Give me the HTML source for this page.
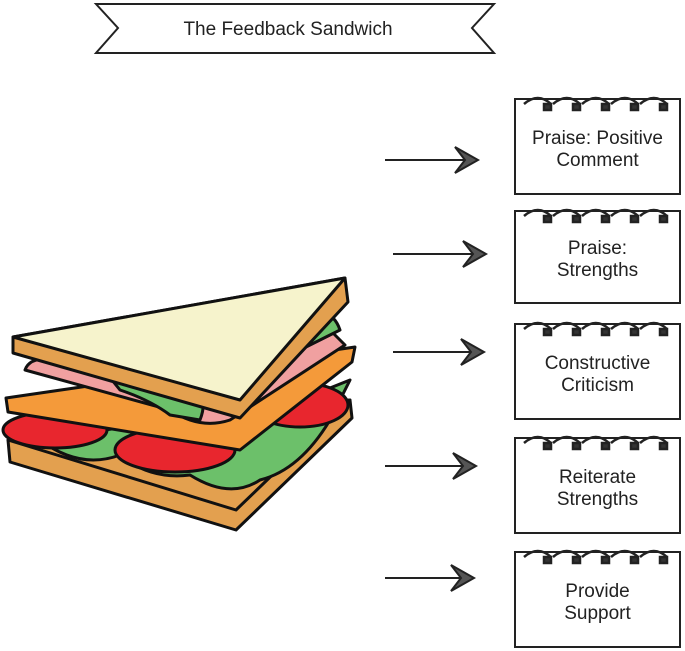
<!DOCTYPE html>
<html><head><style>
body{margin:0;width:685px;height:651px;background:#fff;overflow:hidden;position:relative;font-family:"Liberation Sans",sans-serif}
.card{position:absolute;left:514px;width:167px;border:2px solid #222;background:#fff;box-sizing:border-box;display:flex;align-items:center;justify-content:center;text-align:center;font-size:19px;line-height:22px;color:#222;padding-top:6px}
</style></head><body>
<svg width="685" height="651" style="position:absolute;left:0;top:0">
<polygon points="96,4 494,4 472,28 494,53 96,53 118,28" fill="#fff" stroke="#222" stroke-width="2"/>
<text x="288" y="35" text-anchor="middle" font-size="19" fill="#222" font-family="Liberation Sans, sans-serif">The Feedback Sandwich</text>
<g stroke="#222" stroke-width="2" fill="#555">
<line x1="385" y1="160" x2="470" y2="160"/><polygon points="455,147 478,160 455,173 465,160"/>
<line x1="393" y1="254" x2="478" y2="254"/><polygon points="463,241 486,254 463,267 473,254"/>
<line x1="393" y1="352" x2="476" y2="352"/><polygon points="461,339 484,352 461,365 471,352"/>
<line x1="385" y1="466" x2="468" y2="466"/><polygon points="453,453 476,466 453,479 463,466"/>
<line x1="385" y1="578" x2="466" y2="578"/><polygon points="451,565 474,578 451,591 461,578"/>
</g>
<g stroke="#111" stroke-width="3" stroke-linejoin="round">
<polygon points="8,440 350,400 352,418 236,530 10,462" fill="#e3a04f"/>
<polygon points="8,440 350,400 236,510" fill="#e3a04f"/>
<path d="M40,440 Q80,470 120,455 Q150,480 190,475 Q230,500 260,480 Q300,470 330,420 L350,380 L300,400 Z" fill="#6cc06a"/>
<ellipse cx="55" cy="430" rx="52" ry="18" fill="#e8262e"/>
<ellipse cx="175" cy="450" rx="60" ry="22" fill="#e8262e"/>
<ellipse cx="300" cy="405" rx="48" ry="22" fill="#e8262e"/>
<polygon points="6,398 355,347 352,362 240,450 8,412" fill="#f49a3a"/>
<path d="M25,370 Q30,355 60,360 L330,330 L345,345 L230,420 Q200,430 170,410 Z" fill="#f0a0a0"/>
<path d="M100,365 Q140,350 190,370 Q210,395 200,420 L170,415 Q150,400 120,390 Z" fill="#6cc06a"/>
<path d="M290,320 Q330,300 340,330 L300,350 Z" fill="#6cc06a"/>
<polygon points="13,337 345,278 348,302 240,418 13,353" fill="#e3a04f"/>
<polygon points="13,337 345,278 240,400" fill="#f6f3cc"/>
</g>
</svg>
<div class="card" style="top:98px;height:97px">Praise: Positive<br>Comment</div>
<div class="card" style="top:210px;height:94px">Praise:<br>Strengths</div>
<div class="card" style="top:323px;height:97px">Constructive<br>Criticism</div>
<div class="card" style="top:437px;height:97px">Reiterate<br>Strengths</div>
<div class="card" style="top:551px;height:97px">Provide<br>Support</div>
<svg width="685" height="651" style="position:absolute;left:0;top:0">
<g fill="#333" stroke="#222" stroke-width="2.5">
<g id="r"><path d="M524,104 q14,-12 27,0 M553,104 q14,-12 27,0 M582,104 q14,-12 27,0 M611,104 q14,-12 27,0 M640,104 q14,-12 27,0" fill="none"/>
<rect x="544" y="104" width="7" height="6"/><rect x="573" y="104" width="7" height="6"/><rect x="602" y="104" width="7" height="6"/><rect x="631" y="104" width="7" height="6"/><rect x="660" y="104" width="7" height="6"/></g>
<use href="#r" y="112"/><use href="#r" y="225"/><use href="#r" y="339"/><use href="#r" y="453"/>
</g></svg>
</body></html>
